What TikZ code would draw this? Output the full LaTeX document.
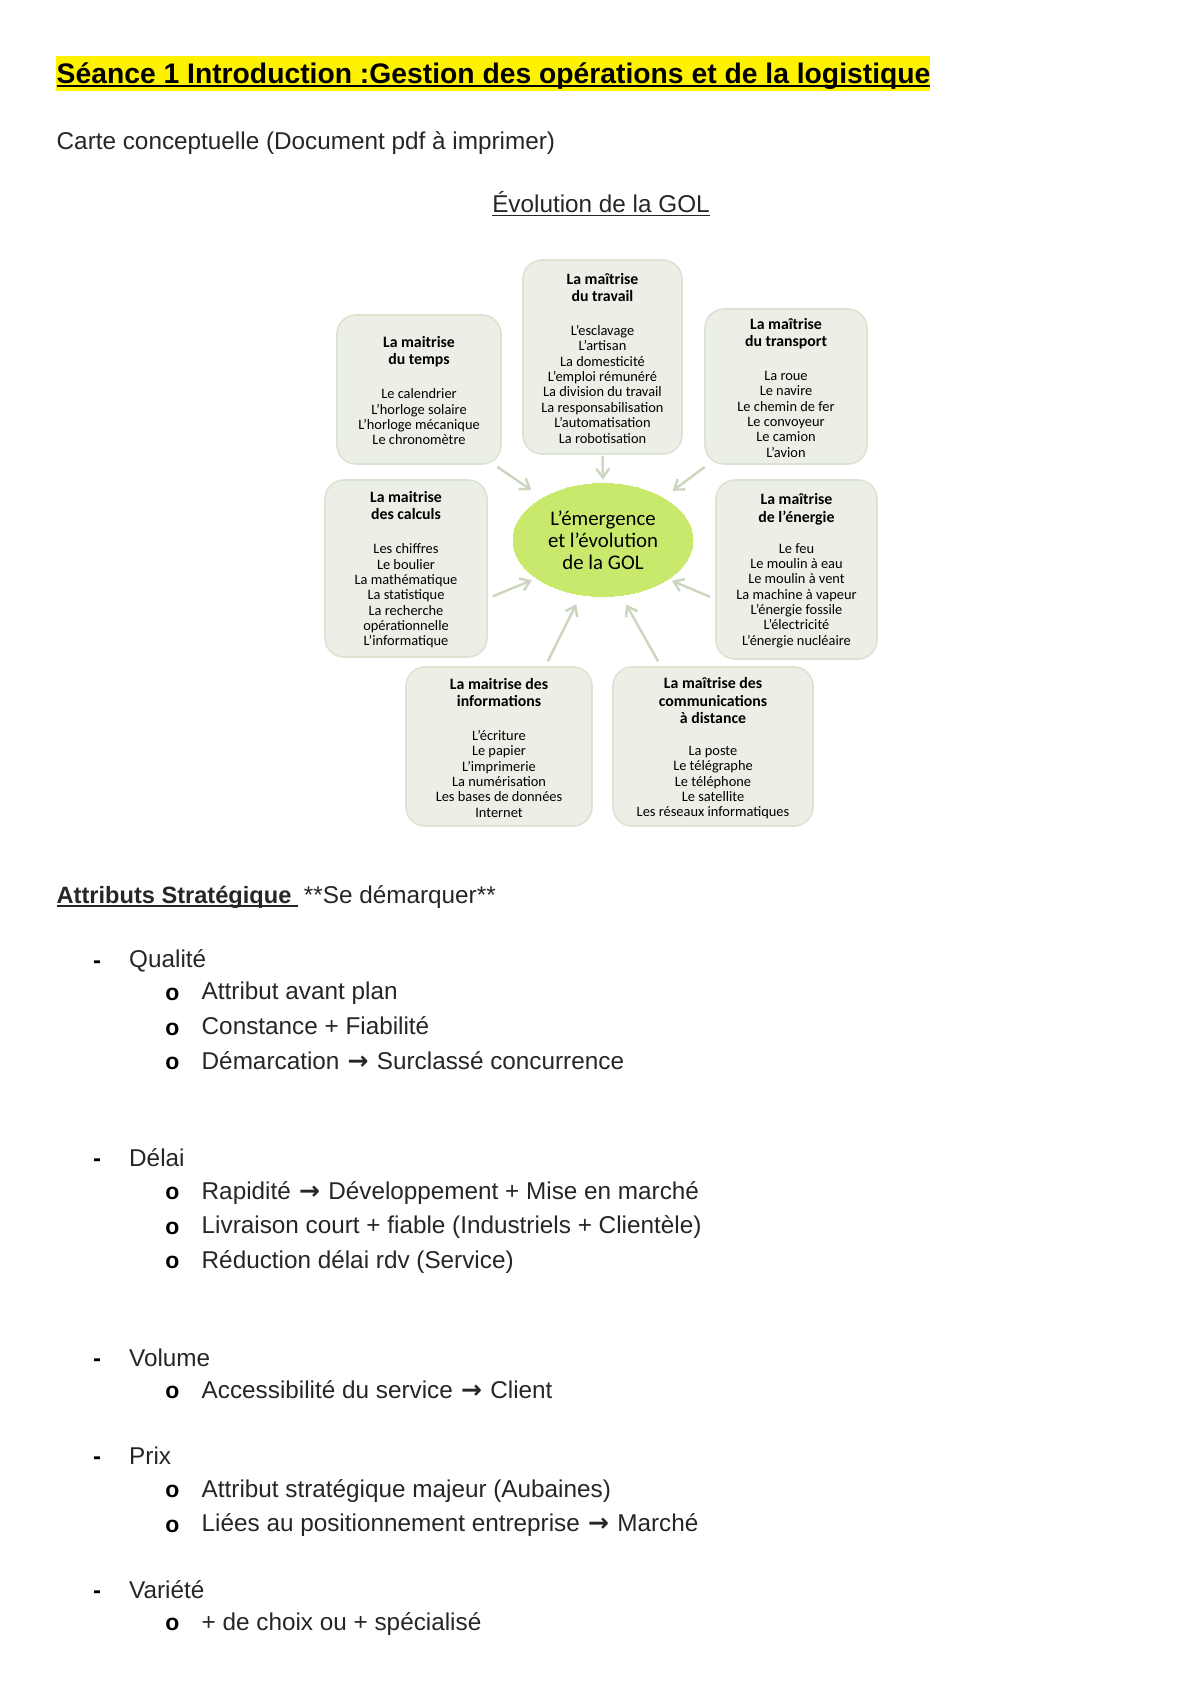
\documentclass[tikz,border=0pt]{standalone}
\usepackage{fontspec}
\setmainfont{Liberation Sans}
\newfontfamily\carlitofont{Carlito}
\newfontfamily\arrowfont{DejaVu Sans}
\usetikzlibrary{shapes.geometric,arrows.meta}
\definecolor{boxfill}{HTML}{EBEFE6}
\definecolor{boxline}{HTML}{DCE3D2}
\definecolor{arrowc}{HTML}{CBD6BE}
\definecolor{hub}{HTML}{C8E96C}
\definecolor{bodyc}{HTML}{262626}
\newcommand{\myul}[3]{\sbox0{#1}\rlap{\usebox0}\rule[#2]{\wd0}{#3}}
\newcommand{\rarrow}{{\arrowfont\bfseries\fontsize{25}{25}\selectfont\hspace{1.5pt}→\hspace{1.5pt}}}
\tikzset{
  x=1pt,y=-1pt,
  concept/.style={draw=boxline,line width=1.6pt,fill=boxfill,rounded corners=19pt,inner sep=0pt,align=center,text=black,font=\carlitofont\fontsize{14.4}{15.35}\selectfont},
  flow/.style={draw=arrowc,line width=2.4pt,-{Straight Barb[length=9pt,width=13pt,line width=2.4pt]}},
  doctext/.style={anchor=base west,inner sep=0pt,text=bodyc,font=\fontsize{24.3}{28}\selectfont},
  dashmark/.style={anchor=base,inner sep=0pt,text=black,font=\bfseries\fontsize{24}{28}\selectfont},
  ringmark/.style={anchor=base,inner sep=0pt,text=black,font=\bfseries\fontsize{23}{28}\selectfont},
}
\newcommand{\hdline}[1]{\textbf{\fontsize{15.8}{18}\selectfont #1}}
\newcommand{\twoline}[3][18.5pt]{\rule{0pt}{13.5pt}\hdline{#2}\\[2pt]\hdline{#3}\\[#1]}
\begin{document}
\begin{tikzpicture}
\useasboundingbox (0,0) rectangle (1200,1698);
\fill[white] (0,0) rectangle (1200,1698);
\fill[yellow] (56,56) rectangle (930,91);
\node[doctext,text=black,font=\bfseries\fontsize{28.28}{30}\selectfont] (title) at (56.5,83) {\myul{Séance 1 Introduction :Gestion des opérations et de la logistique}{-3.6pt}{1.8pt}};
\node[doctext] (carte) at (56.5,149) {Carte conceptuelle (Document pdf à imprimer)};
\node[doctext,anchor=base] (evol) at (601,212.5) {\myul{Évolution de la GOL}{-3.4pt}{1.3pt}};

\node[concept,minimum width=164pt,minimum height=149pt] (temps) at (419,389.5) {\twoline{La maitrise}{du temps}Le calendrier\\L’horloge solaire\\L’horloge mécanique\\Le chronomètre};
\node[concept,minimum width=159pt,minimum height=194pt] (travail) at (602.5,357) {\twoline{La maîtrise}{du travail}L’esclavage\\L’artisan\\La domesticité\\L’emploi rémunéré\\La division du travail\\La responsabilisation\\L’automatisation\\La robotisation};
\node[concept,minimum width=162pt,minimum height=155pt] (transport) at (786,386.5) {\twoline{La maîtrise}{du transport}La roue\\Le navire\\Le chemin de fer\\Le convoyeur\\Le camion\\L’avion};
\node[concept,minimum width=162pt,minimum height=177pt] (calculs) at (406,568.5) {\twoline{La maitrise}{des calculs}Les chiffres\\Le boulier\\La mathématique\\La statistique\\La recherche\\opérationnelle\\L’informatique};
\node[concept,minimum width=161pt,minimum height=179pt] (energie) at (796.5,569.5) {\twoline[15.5pt]{La maîtrise}{de l’énergie}Le feu\\Le moulin à eau\\Le moulin à vent\\La machine à vapeur\\L’énergie fossile\\L’électricité\\L’énergie nucléaire};
\node[concept,minimum width=186pt,minimum height=159pt] (infos) at (499,746.5) {\twoline{La maitrise des}{informations}L’écriture\\Le papier\\L’imprimerie\\La numérisation\\Les bases de données\\Internet};
\node[concept,minimum width=200pt,minimum height=159pt] (comm) at (713,746.5) {\rule{0pt}{15pt}\hdline{La maîtrise des}\\[2pt]\hdline{communications}\\[2pt]\hdline{à distance}\\[16.5pt]La poste\\Le télégraphe\\Le téléphone\\Le satellite\\Les réseaux informatiques};
\node[ellipse,fill=hub,draw=hub,line width=0pt,minimum width=180pt,minimum height=113pt,inner sep=0pt,align=center,text=black,font=\carlitofont\fontsize{20.8}{22}\selectfont] (centre) at (603,540) {L’émergence\\et l’évolution\\de la GOL};

\draw[flow,shorten <=3.6pt,shorten >=14pt] (temps.-45.6) -- (centre.145);
\draw[flow,shorten <=1pt,shorten >=4pt] (travail.south) -- (centre.north);
\draw[flow,shorten <=3.6pt,shorten >=12pt] (transport.225.9) -- (centre.35);
\draw[flow,shorten <=5.4pt,shorten >=5.4pt] (calculs.-20) -- (centre.210);
\draw[flow,shorten <=5.5pt,shorten >=4.4pt] (energie.200.2) -- (centre.329.4);
\draw[flow,shorten <=5.6pt,shorten >=10.5pt] (infos.60.3) -- (centre.248.7);
\draw[flow,shorten <=5.7pt,shorten >=10.6pt] (comm.123.8) -- (centre.288.2);

\node[doctext] (attr) at (56.5,903.5) {\myul{\fontsize{23.6}{28}\selectfont\bfseries Attributs Stratégique\ }{-3.4pt}{1.6pt}\hspace{6pt}**Se démarquer**};

\node[dashmark] (d1) at (97,968) {-};
\node[doctext] (qual) at (129,967.5) {Qualité};
\node[ringmark] (o1) at (172.5,1000.5) {o};
\node[doctext] (q1) at (201.5,999.5) {Attribut avant plan};
\node[ringmark] (o2) at (172.5,1035) {o};
\node[doctext] (q2) at (201.5,1034.5) {Constance + Fiabilité};
\node[ringmark] (o3) at (172.5,1069.5) {o};
\node[doctext] (q3) at (201.5,1069) {Démarcation \rarrow{} Surclassé concurrence};

\node[dashmark] (d2) at (97,1166) {-};
\node[doctext] (delai) at (129,1166) {Délai};
\node[ringmark] (o4) at (172.5,1199.5) {o};
\node[doctext] (dl1) at (201.5,1199) {Rapidité \rarrow{} Développement + Mise en marché};
\node[ringmark] (o5) at (172.5,1234) {o};
\node[doctext] (dl2) at (201.5,1233.5) {Livraison court + fiable (Industriels + Clientèle)};
\node[ringmark] (o6) at (172.5,1268.5) {o};
\node[doctext] (dl3) at (201.5,1268) {Réduction délai rdv (Service)};

\node[dashmark] (d3) at (97,1366) {-};
\node[doctext] (vol) at (129,1366) {Volume};
\node[ringmark] (o7) at (172.5,1398.5) {o};
\node[doctext] (v1) at (201.5,1398) {Accessibilité du service \rarrow{} Client};

\node[dashmark] (d4) at (97,1464) {-};
\node[doctext] (prix) at (129,1464) {Prix};
\node[ringmark] (o8) at (172.5,1497.5) {o};
\node[doctext] (p1) at (201.5,1497) {Attribut stratégique majeur (Aubaines)};
\node[ringmark] (o9) at (172.5,1532) {o};
\node[doctext] (p2) at (201.5,1531.5) {Liées au positionnement entreprise \rarrow{} Marché};

\node[dashmark] (d5) at (97,1598.5) {-};
\node[doctext] (var) at (129,1598.5) {Variété};
\node[ringmark] (o10) at (172.5,1630.5) {o};
\node[doctext] (va1) at (201.5,1630) {+ de choix ou + spécialisé};
\end{tikzpicture}
\end{document}
